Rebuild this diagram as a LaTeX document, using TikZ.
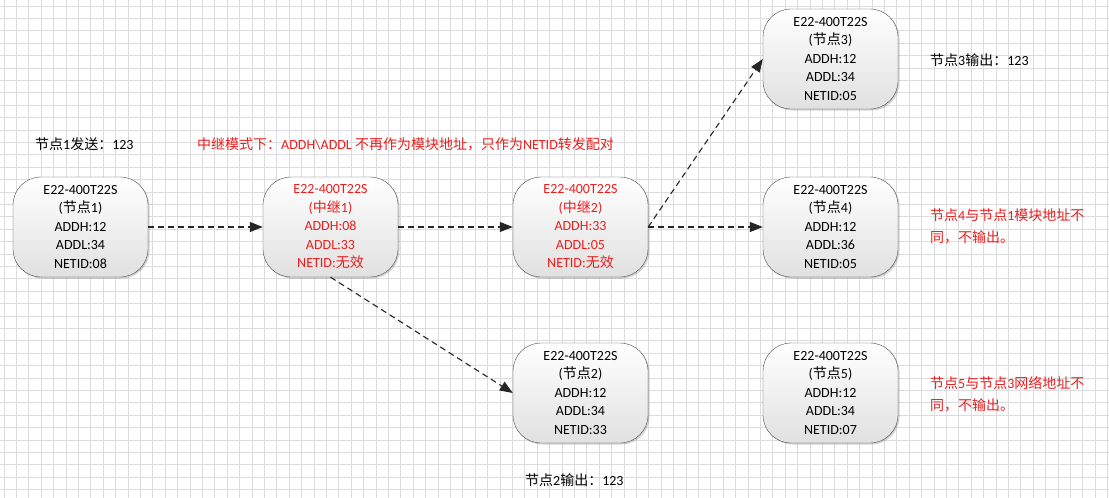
\documentclass[tikz,border=0pt]{standalone}
\usepackage{fontspec}
\setmainfont{Carlito}
\newfontfamily\cjk{Noto Sans CJK SC}
\usetikzlibrary{arrows.meta,shadows}
\definecolor{gridc}{RGB}{220,220,220}
\definecolor{redt}{RGB}{235,30,30}
\tikzset{
  box/.style={draw=black!70,rounded corners=28pt,minimum width=135pt,minimum height=100pt,
    top color=white,bottom color=black!12,align=center,font=\fontsize{14}{18.5}\selectfont,
    drop shadow={shadow xshift=1.5pt,shadow yshift=-1.5pt,opacity=0.35},inner sep=0pt},
  conn/.style={dash pattern=on 6pt off 4pt,line width=1.1pt,draw=black!85,-{Triangle[length=13pt,width=10pt]}},
  note/.style={anchor=west,font=\fontsize{14}{22}\selectfont,align=left,inner sep=0pt}
}
\begin{document}
\begin{tikzpicture}[x=1pt,y=-1pt]
\useasboundingbox (0,0) rectangle (1109,498);
\fill[white] (0,0) rectangle (1109,498);
\foreach \i in {0,...,89}{\draw[gridc,line width=0.7pt] (4+\i*12.4,0)--(4+\i*12.4,498);}
\foreach \i in {0,...,40}{\draw[gridc,line width=0.7pt] (0,6+\i*12.4)--(1109,6+\i*12.4);}
\node[box] (n1) at (80.5,227) {E22-400T22S\\({\cjk 节点}1)\\ADDH:12\\ADDL:34\\NETID:08};
\node[box,text=redt] (r1) at (330.5,227) {E22-400T22S\\({\cjk 中继}1)\\ADDH:08\\ADDL:33\\NETID:{\cjk 无效}};
\node[box,text=redt] (r2) at (580.5,227) {E22-400T22S\\({\cjk 中继}2)\\ADDH:33\\ADDL:05\\NETID:{\cjk 无效}};
\node[box] (n3) at (830.5,59) {E22-400T22S\\({\cjk 节点}3)\\ADDH:12\\ADDL:34\\NETID:05};
\node[box] (n4) at (830.5,227) {E22-400T22S\\({\cjk 节点}4)\\ADDH:12\\ADDL:36\\NETID:05};
\node[box] (n2) at (580.5,393) {E22-400T22S\\({\cjk 节点}2)\\ADDH:12\\ADDL:34\\NETID:33};
\node[box] (n5) at (830.5,393) {E22-400T22S\\({\cjk 节点}5)\\ADDH:12\\ADDL:34\\NETID:07};
\draw[conn] (n1.east) -- (r1.west);
\draw[conn] (r1.east) -- (r2.west);
\draw[conn] (r2.east) -- (n4.west);
\draw[conn] (r2.east) -- (n3.west);
\draw[conn] (r1.south) -- (n2.west);
\node[note] (t1) at (35,144) {{\cjk 节点}1{\cjk 发送：}123};
\node[note,text=redt] (t2) at (197,144) {{\cjk 中继模式下：}ADDH\textbackslash ADDL {\cjk 不再作为模块地址，只作为}NETID{\cjk 转发配对}};
\node[note] (t3) at (930,60) {{\cjk 节点}3{\cjk 输出：}123};
\node[note,text=redt] (t4) at (930,226) {{\cjk 节点}4{\cjk 与节点}1{\cjk 模块地址不}\\{\cjk 同，不输出。}};
\node[note,text=redt] (t5) at (930,394) {{\cjk 节点}5{\cjk 与节点}3{\cjk 网络地址不}\\{\cjk 同，不输出。}};
\node[note] (t6) at (525,480) {{\cjk 节点}2{\cjk 输出：}123};
\end{tikzpicture}
\end{document}
